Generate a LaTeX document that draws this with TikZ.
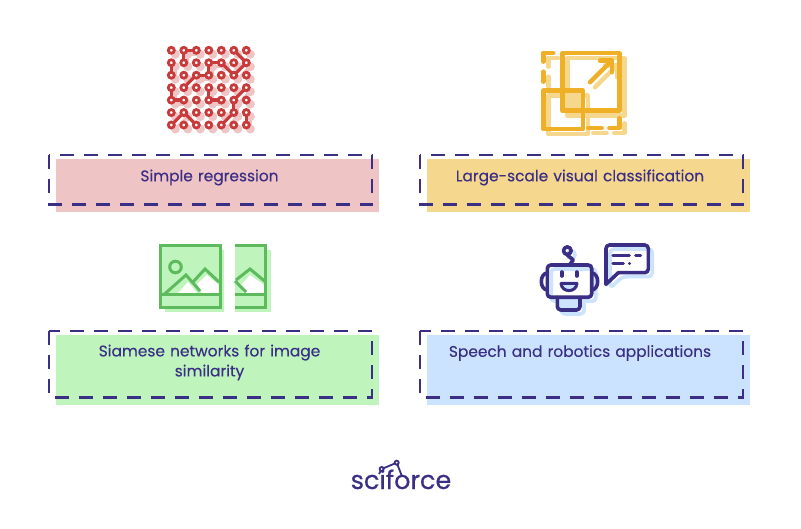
\documentclass[tikz,border=0pt]{standalone}
\usepackage{fontspec}
\setmainfont[FakeBold=0.25]{Poppins}
\newfontfamily\logofont[FakeBold=0.5]{Poppins}
\definecolor{ink}{HTML}{3A2E85}
\definecolor{redd}{HTML}{C93A3A}
\definecolor{redl}{HTML}{EFC4C4}
\definecolor{yeld}{HTML}{EFB027}
\definecolor{yell}{HTML}{F5D78E}
\definecolor{grnd}{HTML}{5DBB5D}
\definecolor{grnl}{HTML}{BFF5BC}
\definecolor{blul}{HTML}{CCE3FF}
\tikzset{
  panel/.style={draw=none,minimum width=322.5pt,inner sep=0pt,outer sep=0pt},
  dashbox/.style={inner sep=0pt,outer sep=0pt,minimum width=323pt},
  dashline/.style={draw=ink,line width=2.2pt,dash pattern=on 14pt off 10pt},
  label/.style={text=ink,font=\fontsize{15.4}{20}\selectfont,align=center,text width=300pt,inner sep=0pt},
  iconline/.style={line width=4.4pt,line cap=round,line join=round},
}
\newcommand{\dotgridedges}{1/0/2/0,1/0/1/1,0/1/0/2,3/1/4/1,3/1/3/2,2/2/3/2,1/3/2/2,4/1/5/2,5/2/6/1,5/0/6/1,3/3/3/4,3/4/4/4,0/3/0/4,0/4/1/4,5/4/6/3,5/4/5/5,5/5/4/6,6/5/6/6,0/6/1/5,1/5/2/6}
\newcommand{\dotgrid}[2]{%
  \foreach \a/\b/\c/\d in \dotgridedges {
    \draw[#1,line width=3.2pt] ({171.3+12.5*\a},{50.3+12.45*\b}) -- ({171.3+12.5*\c},{50.3+12.45*\d});
  }
  \foreach \a in {0,...,6} \foreach \b in {0,...,6} {
    \draw[#1,line width=2.8pt,fill=#2] ({171.3+12.5*\a},{50.3+12.45*\b}) circle (3pt);
  }
}
\newcommand{\scaleicon}{%
  \draw (562.3,53.3) rectangle (619.3,110.7);
  \draw (543.3,90.7) rectangle (582.7,129.3);
  \draw (590,82.3) -- (611.7,60.7);
  \draw (600,60.7) -- (611.7,60.7) -- (611.7,72.3);
  \draw (588.3,128) -- (601.7,128);
  \draw (609.3,128) -- (619.3,128) -- (619.3,118.3);
  \draw (543.3,53.3) -- (553.3,53.3);
  \draw (543.3,53.3) -- (543.3,61.7);
  \draw (543.3,71.7) -- (543.3,81.7);
}
\begin{document}
\begin{tikzpicture}[x=1pt,y=-1pt]
\useasboundingbox (0,0) rectangle (801,529);
\fill[white] (0,0) rectangle (801,529);

% panels
\node[panel,fill=redl,minimum height=53.5pt,anchor=north west] (p1) at (56,159) {};
\node[panel,fill=yell,minimum height=53.5pt,anchor=north west] (p2) at (427,159) {};
\node[panel,fill=grnl,minimum height=70.5pt,anchor=north west] (p3) at (56,335) {};
\node[panel,fill=blul,minimum height=70.5pt,anchor=north west] (p4) at (427,335) {};
\node[dashbox,minimum height=49.5pt,anchor=north west] (d1) at (49,155) {};
\node[dashbox,minimum height=49.5pt,anchor=north west] (d2) at (420,155) {};
\node[dashbox,minimum height=66.5pt,anchor=north west] (d3) at (49,331) {};
\node[dashbox,minimum height=66.5pt,anchor=north west] (d4) at (420,331) {};
\foreach \n in {d1,d2,d3,d4}
  \draw[dashline] (\n.north west) -- (\n.south west) -- (\n.south east) -- (\n.north east) -- (\n.north west);
\node[label] (t1) at (209.5,177.5) {Simple regression};
\node[label] (t2) at (580,177.5) {Large-scale visual classification};
\node[label,text width=270pt] (t3) at (209.5,362.5) {Siamese networks for image\\similarity};
\node[label] (t4) at (580,353) {Speech and robotics applications};

% dot grid icon
\begin{scope}[shift={(4,4)}] \dotgrid{redl}{redl} \end{scope}
\dotgrid{redd}{white}

% scale icon
\begin{scope}[shift={(5,5)},iconline,yell] \scaleicon \end{scope}
\fill[yell] (562.3,90.7) rectangle (582.7,110.7);
\begin{scope}[iconline,yeld] \scaleicon \end{scope}

% picture icon
\fill[grnl] (165,250) rectangle (224,312);
\fill[grnl] (235,250) rectangle (270.5,312);
\fill[grnl] (160.7,245.7) rectangle (220,307.7);
\fill[grnl] (235,245.7) rectangle (265.7,307.7);
\fill[white] (178,293) -- (188,282) -- (197,293) -- cycle;
\fill[white] (201,291) -- (197,284) -- (207,275) -- (218.5,285) -- (218.5,293) -- (201,293) -- cycle;
\fill[white] (243,293) -- (241,285) -- (250,275) -- (264,285) -- (264,293) -- cycle;
\begin{scope}[line width=3pt,grnd,line join=miter]
  \draw (160.7,245.7) rectangle (220,307.7);
  \draw (160.7,294.5) -- (220,294.5);
  \draw (164,294.5) -- (186,275) -- (200,291);
  \draw (193,282) -- (205,269) -- (219,282);
  \draw (175.5,267) circle (5.8pt);
  \draw (235,245.7) -- (265.7,245.7) -- (265.7,307.7) -- (235,307.7);
  \draw (235,294.5) -- (265.7,294.5);
  \draw (236,280) -- (250,269) -- (265.7,282);
  \draw (235,281) -- (246,292);
\end{scope}

% robot icon
\fill[blul] (557.3,297.3) rectangle (580,310);
\begin{scope}[shift={(4,4)},line width=3.6pt,blul,line cap=round,line join=round]
  \draw[rounded corners=3.5pt] (547.3,265) rectangle (591.7,297.3);
  \draw[rounded corners=3.5pt] (557.3,297.3) -- (557.3,310) -- (580,310) -- (580,297.3);
  \draw (567.3,250.7) circle (3.8pt);
  \draw[rounded corners=4pt] (606,245) -- (648.3,245) -- (648.3,272.7) -- (618.3,272.7) -- (606,284.3) -- cycle;
\end{scope}
\begin{scope}[line width=3.6pt,ink,line cap=round,line join=round]
  \draw[rounded corners=3.5pt] (547.3,265) rectangle (591.7,297.3);
  \draw[rounded corners=3.5pt] (557.3,297.3) -- (557.3,310) -- (580,310) -- (580,297.3);
  \draw (547.3,273) arc[start angle=90,end angle=270,x radius=6pt,y radius=8.5pt];
  \draw (591.7,273) arc[start angle=90,end angle=-90,x radius=6pt,y radius=8.5pt];
  \draw (567.3,250.7) circle (3.8pt);
  \draw (567.3,255) -- (573.3,260) -- (569.3,265);
  \draw (561.7,272) -- (561.7,276);
  \draw (576.7,272) -- (576.7,276);
  \draw[fill=blul,line width=3pt] (561,283.5) -- (577,283.5) .. controls (576,293) and (562,293) .. (561,283.5) -- cycle;
  \draw[rounded corners=3.5pt] (618.3,272.7) -- (648.3,272.7) -- (648.3,245) -- (606,245) -- (606,284.3);
  \draw (618.3,272.7) -- (606,284.3);
  \begin{scope}[line width=3pt]
  \draw (612.8,255.7) -- (629.3,255.7);
  \draw (635.5,255.7) -- (640.7,255.7);
  \draw (612.8,263.3) -- (623.3,263.3);
  \draw (629.3,263.3) -- (629.6,263.3);
  \end{scope}
\end{scope}

% logo
\node[text=ink,font=\logofont\fontsize{25.5}{30}\selectfont,anchor=base,inner sep=0pt] (logo) at (401,489) {sciforce};
\coordinate (n1) at (381.7,469);
\coordinate (n2) at (396.7,462.7);
\coordinate (n3) at (401.5,475);
\draw[ink,line width=1.8pt] (379,474) -- (n1) -- (n2) -- (n3);
\fill[ink] (n1) circle (3pt);
\fill[ink] (n2) circle (3pt);
\fill[white] (n1) circle (1pt);
\fill[white] (n2) circle (1pt);
\end{tikzpicture}
\end{document}
